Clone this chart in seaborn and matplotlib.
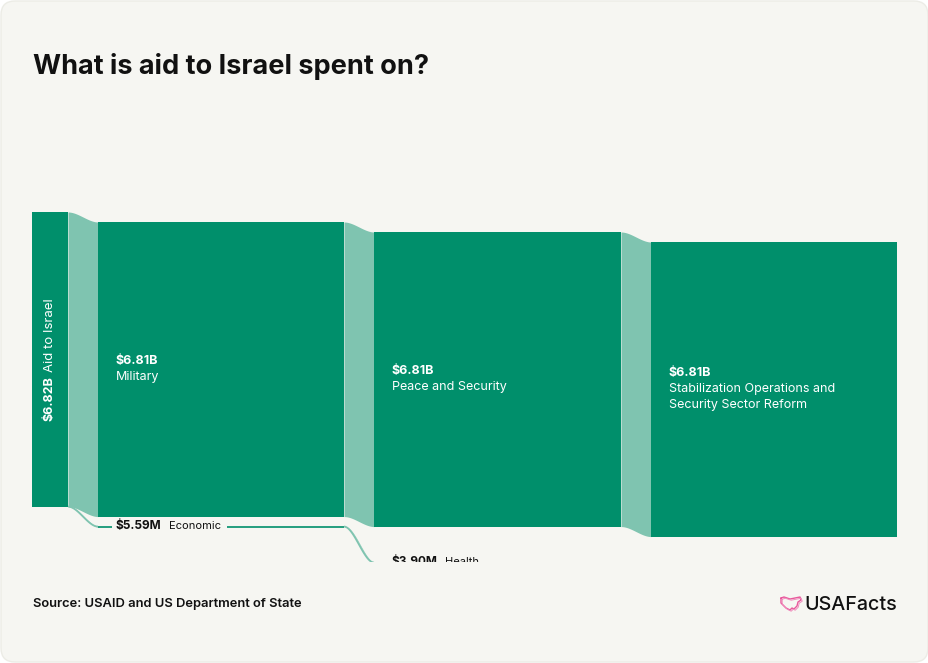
import numpy as np
import matplotlib
matplotlib.use("Agg")
import matplotlib.pyplot as plt
from matplotlib.patches import FancyBboxPatch, Rectangle
import seaborn as sns

# ---------------------------------------------------------------------------
# data (USD)
# ---------------------------------------------------------------------------
node_names = ["Aid to Israel", "Military", "Economic", "Peace and Security",
              "Health", "Stabilization Operations and\nSecurity Sector Reform"]
node_values = [6.82e9, 6.81e9, 5.59e6, 6.81e9, 3.90e6, 6.81e9]
node_value_labels = ["$6.82B", "$6.81B", "$5.59M", "$6.81B", "$3.90M", "$6.81B"]
node_column = [0, 1, 1, 2, 2, 3]

link_source = [0, 0, 1, 2, 3]
link_target = [1, 2, 3, 4, 5]
link_values = [6.81e9, 5.59e6, 6.81e9, 3.90e6, 6.81e9]

# ---------------------------------------------------------------------------
# style / layout
# ---------------------------------------------------------------------------
sns.set_theme(style="white")
plt.rcParams["font.family"] = ["Inter", "DejaVu Sans"]

BG = "#f6f6f2"
NODE = "#008f6b"
LINK = "#7fc4b0"
INK = "#111111"

W, H = 929, 663
col_x = [32, 98, 374, 651]        # left edge of each column
col_w = [36, 246, 247, 246]       # width of nodes in each column
col_top = [212, 222, 232, 242]    # top of the first node in each column
col_gap = [10, 10, 36, 10]        # gap between stacked nodes
px_per_usd = 295 / 6.82e9
clip_bottom = 562

fig = plt.figure(figsize=(W / 100, H / 100), dpi=100)
fig.patch.set_facecolor("white")

# full-figure axes for the card and text
ax = fig.add_axes([0, 0, 1, 1])
ax.set_xlim(0, W)
ax.set_ylim(H, 0)
ax.axis("off")
ax.add_patch(FancyBboxPatch((1, 1), W - 2, H - 2,
                            boxstyle="round,pad=0,rounding_size=14",
                            fc=BG, ec="#ececE6", lw=1))

# sankey axes, clipped at the bottom like the original embed
sk = fig.add_axes([0, (H - clip_bottom) / H, 1, clip_bottom / H])
sk.set_xlim(0, W)
sk.set_ylim(clip_bottom, 0)
sk.axis("off")
sk.patch.set_alpha(0)

# node positions
node_top, node_h = [], []
cursor = list(col_top)
for i, v in enumerate(node_values):
    c = node_column[i]
    h = v * px_per_usd
    node_top.append(cursor[c])
    node_h.append(h)
    cursor[c] += h + col_gap[c]

# links
out_off = [0.0] * len(node_values)
in_off = [0.0] * len(node_values)
s = np.linspace(0, 1, 80)
ease = 3 * s ** 2 - 2 * s ** 3
for src, tgt, v in zip(link_source, link_target, link_values):
    h = v * px_per_usd
    x0 = col_x[node_column[src]] + col_w[node_column[src]]
    x1 = col_x[node_column[tgt]]
    y0 = node_top[src] + out_off[src]
    y1 = node_top[tgt] + in_off[tgt]
    out_off[src] += h
    in_off[tgt] += h
    xs = x0 + (x1 - x0) * s
    top = y0 + (y1 - y0) * ease
    if h < 2:
        sk.plot(xs, top, color=LINK, lw=1.3, solid_capstyle="butt", zorder=2)
        sk.plot(xs + 1.5, top + 0.8, color=LINK, lw=0.6, alpha=0.7, zorder=2)
    else:
        sk.fill_between(xs, top, top + h, color=LINK, lw=0, zorder=2)

# nodes
for i, (t, h) in enumerate(zip(node_top, node_h)):
    c = node_column[i]
    if h < 2:
        sk.plot([col_x[c], col_x[c] + col_w[c]], [t, t], color=NODE, lw=1.2,
                solid_capstyle="butt", zorder=2)
    else:
        sk.add_patch(Rectangle((col_x[c], t), col_w[c], h, fc=NODE, ec="none", zorder=2))

# labels
renderer = fig.canvas.get_renderer()
for i, (t, h) in enumerate(zip(node_top, node_h)):
    c = node_column[i]
    if c == 0:
        # rotated label, bold value then name, centred on the node
        cx = col_x[c] + col_w[c] / 2
        tv = sk.text(cx, 0, node_value_labels[i], rotation=90, ha="center",
                     va="bottom", color="white", fontsize=9, fontweight="bold", zorder=5)
        tn = sk.text(cx, 0, node_names[i], rotation=90, ha="center",
                     va="bottom", color="white", fontsize=9.5, zorder=5)
        lv = tv.get_window_extent(renderer).height
        ln = tn.get_window_extent(renderer).height
        gap = 4
        bottom = t + h / 2 + (lv + gap + ln) / 2
        tv.set_y(bottom)
        tn.set_y(bottom - lv - gap)
    elif h >= 2:
        lines = [node_value_labels[i]] + node_names[i].split("\n")
        n = len(lines)
        for k, line in enumerate(lines):
            yy = t + h / 2 + (k - (n - 1) / 2) * 16
            sk.text(col_x[c] + 18, yy, line, ha="left", va="center", color="white",
                    fontsize=9, fontweight="bold" if k == 0 else "normal", zorder=5)
    else:
        lx = col_x[c] + 18
        sk.add_patch(Rectangle((lx - 4, t - 7), 115, 14, fc=BG, ec="none", zorder=3))
        sk.text(lx, t - 1, node_value_labels[i], ha="left", va="center", color=INK,
                fontsize=8.5, fontweight="bold", zorder=5, clip_on=True)
        sk.text(lx + 53, t - 1, node_names[i], ha="left", va="center", color=INK,
                fontsize=8, zorder=5, clip_on=True)

# title, source, logo
ax.text(33, 66, "What is aid to Israel spent on?", ha="left", va="center",
        fontsize=19.5, fontweight="bold", color=INK)
ax.text(33, 604, "Source: USAID and US Department of State", ha="left", va="center",
        fontsize=9.3, fontweight="semibold", color=INK)
ax.text(804, 605, "USAFacts", ha="left", va="center", fontsize=14.2,
        fontweight="medium", color=INK)
us_x = np.array([781, 784, 790, 795, 800, 801, 798, 797, 794, 792, 790, 786, 783, 781, 781])
us_y = np.array([598, 597, 599, 598, 597, 600, 602, 606, 609, 608, 610, 608, 605, 603, 598])
ax.plot(us_x, us_y, color="#e8589c", lw=1.0)
ax.plot(us_x + 1.2, us_y + 1.2, color="#f08cbc", lw=0.7)

fig.savefig("out.png", dpi=100, facecolor=fig.get_facecolor())
